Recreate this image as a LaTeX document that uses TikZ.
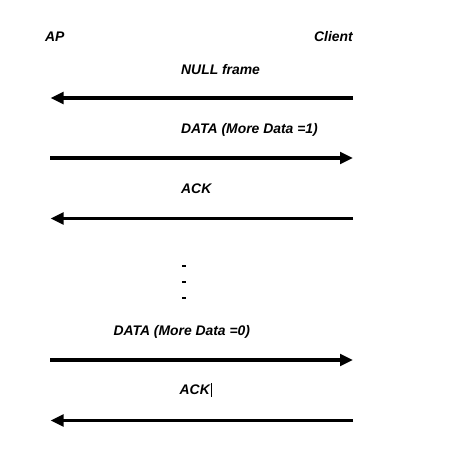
\documentclass[tikz,border=0pt]{standalone}
\usepackage{fontspec}
\setmainfont{Liberation Sans}
\usetikzlibrary{arrows.meta}
\begin{document}
\begin{tikzpicture}[x=1pt,y=-1pt,
  lbl/.style={anchor=base west,inner sep=0pt,font=\fontsize{13.9}{16}\selectfont\bfseries\itshape},
  msg/.style={line width=3.2pt,-{Triangle[length=13pt,width=11.5pt]}},
  dot/.style={fill=black,draw=none,minimum width=4pt,minimum height=2.4pt,inner sep=0pt}]
\useasboundingbox (0,0) rectangle (461,468);
\node[lbl] (ap) at (45,41.7) {AP};
\node[lbl,anchor=base east] (client) at (353,41.7) {Client};
% message rows
\node[lbl] (l1) at (181,75) {NULL frame};
\coordinate (a1r) at (353,98); \coordinate (a1l) at (50.5,98);
\draw[msg] (a1r) -- (a1l);
\node[lbl] (l2) at (181,133) {DATA (More Data =1)};
\coordinate (a2l) at (50,158); \coordinate (a2r) at (353,158);
\draw[msg] (a2l) -- (a2r);
\node[lbl] (l3) at (181,193) {ACK};
\coordinate (a3r) at (353,218.5); \coordinate (a3l) at (50.5,218.5);
\draw[msg] (a3r) -- (a3l);
\node[dot] (d1) at (184,265.7) {};
\node[dot] (d2) at (184,281.7) {};
\node[dot] (d3) at (184,297.7) {};
\node[lbl] (l4) at (113.3,335) {DATA (More Data =0)};
\coordinate (a4l) at (50,360); \coordinate (a4r) at (353,360);
\draw[msg] (a4l) -- (a4r);
\node[lbl] (l5) at (179.5,394) {ACK};
\draw[line width=0.7pt] ([xshift=1pt]l5.base east) ++(0,-11) coordinate (c1) -- ++(0,14) coordinate (c2);
\coordinate (a5r) at (353,420.5); \coordinate (a5l) at (50.5,420.5);
\draw[msg] (a5r) -- (a5l);
\end{tikzpicture}
\end{document}
